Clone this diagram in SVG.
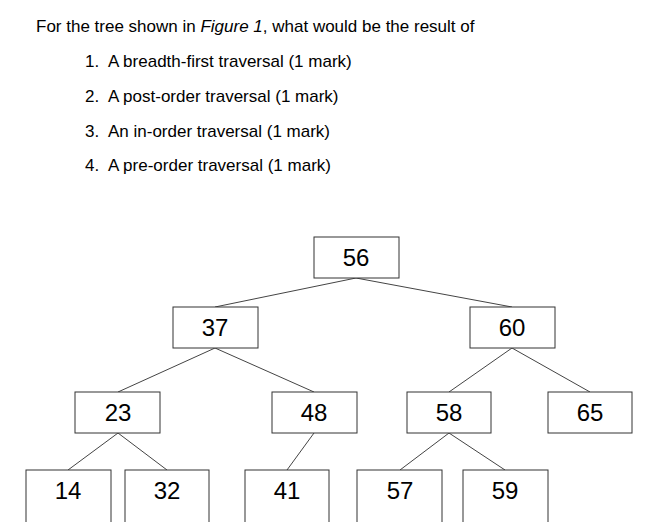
<svg xmlns="http://www.w3.org/2000/svg" width="655" height="522" viewBox="0 0 655 522">
<style>
.q{font-family:"Liberation Sans",Arial,sans-serif;font-size:17px;fill:#000}
.b{fill:#fff;stroke:#333;stroke-width:1}
.t{font-family:"Liberation Sans",Arial,sans-serif;font-size:24px;fill:#000;text-anchor:middle}
.c{stroke:#444;stroke-width:1;fill:none}
</style>
<rect width="655" height="522" fill="#fff"/>
<text class="q" x="36" y="32">For the tree shown in <tspan font-style="italic">Figure 1</tspan>, what would be the result of</text>
<text class="q" x="85" y="67">1.</text><text class="q" x="108" y="67">A breadth-first traversal (1 mark)</text>
<text class="q" x="85" y="102">2.</text><text class="q" x="108" y="102">A post-order traversal (1 mark)</text>
<text class="q" x="85" y="137">3.</text><text class="q" x="108" y="137">An in-order traversal (1 mark)</text>
<text class="q" x="85" y="171">4.</text><text class="q" x="108" y="171">A pre-order traversal (1 mark)</text>
<g id="connectors">
<line class="c" x1="356" y1="278" x2="215" y2="307"/>
<line class="c" x1="356" y1="278" x2="512" y2="307"/>
<line class="c" x1="215" y1="348" x2="118" y2="392"/>
<line class="c" x1="215" y1="348" x2="314" y2="392"/>
<line class="c" x1="512" y1="348" x2="449" y2="392"/>
<line class="c" x1="512" y1="348" x2="590" y2="392"/>
<line class="c" x1="118" y1="433" x2="68" y2="470"/>
<line class="c" x1="118" y1="433" x2="167" y2="470"/>
<line class="c" x1="314" y1="433" x2="287" y2="470"/>
<line class="c" x1="449" y1="433" x2="400" y2="470"/>
<line class="c" x1="449" y1="433" x2="505" y2="470"/>
</g>
<g id="n56"><rect class="b" x="314" y="237" width="85" height="41"/><text class="t" x="356" y="266">56</text></g>
<g id="n37"><rect class="b" x="173" y="307" width="85" height="41"/><text class="t" x="215" y="336">37</text></g>
<g id="n60"><rect class="b" x="470" y="307" width="85" height="41"/><text class="t" x="512" y="336">60</text></g>
<g id="n23"><rect class="b" x="75" y="392" width="85" height="41"/><text class="t" x="118" y="421">23</text></g>
<g id="n48"><rect class="b" x="272" y="392" width="85" height="41"/><text class="t" x="314" y="421">48</text></g>
<g id="n58"><rect class="b" x="407" y="392" width="84" height="41"/><text class="t" x="449" y="421">58</text></g>
<g id="n65"><rect class="b" x="548" y="392" width="84" height="41"/><text class="t" x="590" y="421">65</text></g>
<g id="n14"><rect class="b" x="26" y="470" width="85" height="60"/><text class="t" x="68" y="499">14</text></g>
<g id="n32"><rect class="b" x="125" y="470" width="84" height="60"/><text class="t" x="167" y="499">32</text></g>
<g id="n41"><rect class="b" x="245" y="470" width="84" height="60"/><text class="t" x="287" y="499">41</text></g>
<g id="n57"><rect class="b" x="357" y="470" width="85" height="60"/><text class="t" x="400" y="499">57</text></g>
<g id="n59"><rect class="b" x="463" y="470" width="85" height="60"/><text class="t" x="505" y="499">59</text></g>
</svg>
